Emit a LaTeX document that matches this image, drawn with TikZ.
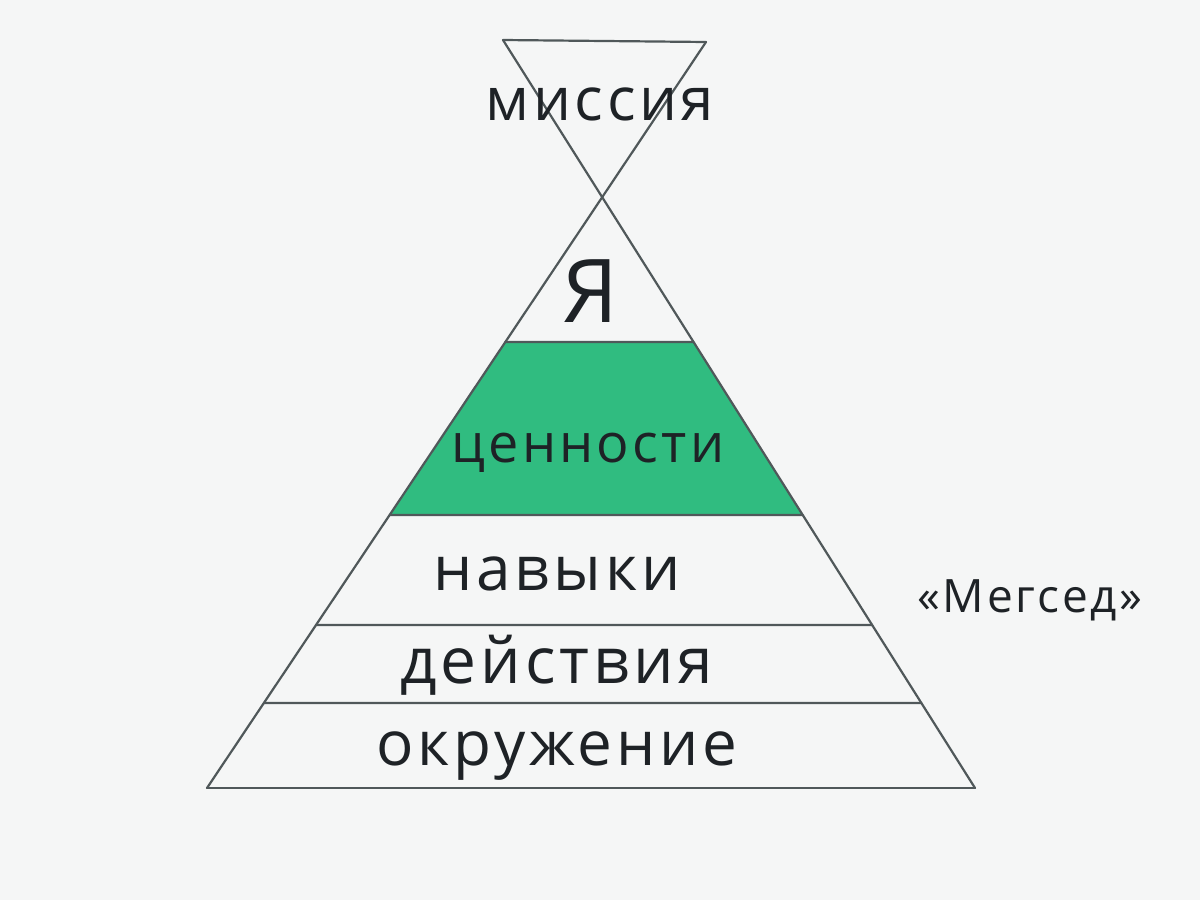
\documentclass[tikz,border=0pt]{standalone}
\usepackage{fontspec}
\setmainfont{Open Sans}[LetterSpace=6]
\usetikzlibrary{calc}
\definecolor{paper}{RGB}{245,246,246}
\definecolor{pencil}{RGB}{80,88,90}
\definecolor{ink}{RGB}{30,34,38}
\definecolor{valgreen}{RGB}{48,188,128}
\tikzset{
  edge/.style={draw=pencil, line width=2.2pt, line cap=round, line join=round},
  lbl/.style={text=ink, anchor=base, inner sep=0pt, font=\fontsize{60}{60}\selectfont},
}
\begin{document}
\begin{tikzpicture}[x=1pt,y=-1pt]
\fill[paper] (0,0) rectangle (1200,900);
\useasboundingbox (0,0) rectangle (1200,900);
% main corners
\coordinate (A) at (503,40);
\coordinate (B) at (706,42);
\coordinate (C) at (207,788);
\coordinate (D) at (975,788);
% level points
\coordinate (L1) at ($(B)!{(342-42)/746}!(C)$);
\coordinate (R1) at ($(A)!{(342-40)/748}!(D)$);
\coordinate (L2) at ($(B)!{(515-42)/746}!(C)$);
\coordinate (R2) at ($(A)!{(515-40)/748}!(D)$);
\coordinate (L3) at ($(B)!{(625-42)/746}!(C)$);
\coordinate (R3) at ($(A)!{(625-40)/748}!(D)$);
\coordinate (L4) at ($(B)!{(703-42)/746}!(C)$);
\coordinate (R4) at ($(A)!{(703-40)/748}!(D)$);
% green band
\fill[valgreen] (L1) -- (R1) -- (R2) -- (L2) -- cycle;
% lines
\draw[edge] (A) -- (B);
\draw[edge] (A) -- (D);
\draw[edge] (B) -- (C);
\draw[edge] (C) -- (D);
\draw[edge] (L1) -- (R1);
\draw[edge] (L2) -- (R2);
\draw[edge] (L3) -- (R3);
\draw[edge] (L4) -- (R4);
% labels
\node[lbl] (mission) at (600,120) {миссия};
\node[lbl, font=\fontsize{88}{88}\selectfont] (self) at (590,322) {Я};
\node[lbl, font=\fontsize{54}{54}\selectfont] (values) at (588,462) {ценности};
\node[lbl, font=\fontsize{62}{62}\selectfont] (skills) at (557,590) {навыки};
\node[lbl, font=\fontsize{64}{64}\selectfont] (actions) at (557,683) {действия};
\node[lbl, font=\fontsize{62}{62}\selectfont] (env) at (557,765) {окружение};
\node[lbl, font=\fontsize{46}{46}\selectfont] (merc) at (1030,612) {«Мегсед»};
\end{tikzpicture}
\end{document}
